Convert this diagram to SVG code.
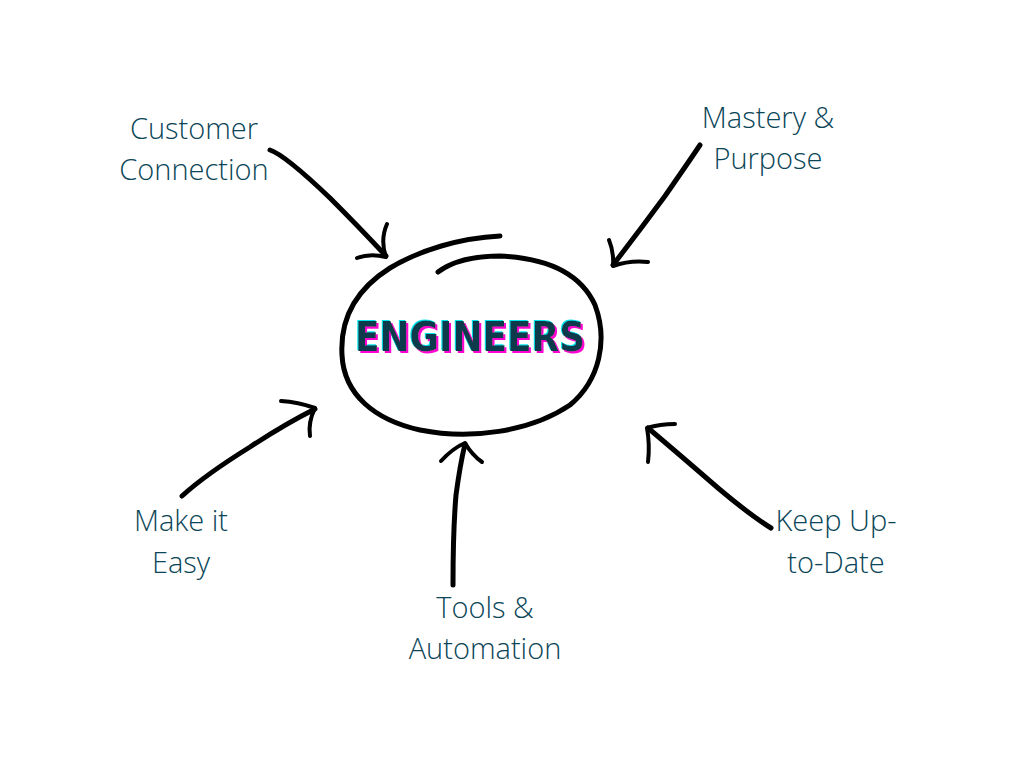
<svg xmlns="http://www.w3.org/2000/svg" width="1024" height="768" viewBox="0 0 1024 768">
<style>
.lbl{font-family:"Open Sans","Liberation Sans",sans-serif;font-weight:300;font-size:29px;fill:#0b4658;text-anchor:middle}
.stroke{fill:none;stroke:#000;stroke-width:5;stroke-linecap:round;stroke-linejoin:round}
.head{fill:none;stroke:#000;stroke-width:4;stroke-linecap:round;stroke-linejoin:round}
.title{font-family:"DejaVu Sans","Liberation Sans",sans-serif;font-weight:bold;font-size:41px;fill:#0b3a4c;text-anchor:middle}
</style>
<defs>
<filter id="glitch" x="-5%" y="-20%" width="110%" height="140%">
<feFlood flood-color="#ff00d4" result="m"/>
<feComposite in="m" in2="SourceAlpha" operator="in" result="mc"/>
<feOffset in="mc" dx="1.5" dy="1.5" result="mo"/>
<feFlood flood-color="#00e5ee" result="c"/>
<feComposite in="c" in2="SourceAlpha" operator="in" result="cc"/>
<feOffset in="cc" dx="-1.5" dy="-1.5" result="co"/>
<feMerge><feMergeNode in="co"/><feMergeNode in="mo"/><feMergeNode in="SourceGraphic"/></feMerge>
</filter>
</defs>
<rect width="1024" height="768" fill="#fff"/>
<g id="engineers">
<path class="stroke" d="M500,236 C460,238 420,250 390,268 C355,290 340,320 342,355 C344,395 375,420 420,430 C470,440 530,432 570,405 C600,380 608,340 595,305 C580,272 545,258 500,256 C470,256 450,263 438,272"/>
<text class="title" x="470" y="351" textLength="230" lengthAdjust="spacingAndGlyphs" filter="url(#glitch)">ENGINEERS</text>
</g>
<g id="customer-connection">
<text class="lbl" x="194" y="139">Customer</text>
<text class="lbl" x="194" y="180">Connection</text>
</g>
<g id="mastery-purpose">
<text class="lbl" x="768" y="128">Mastery &amp;</text>
<text class="lbl" x="768" y="169">Purpose</text>
</g>
<g id="make-it-easy">
<text class="lbl" x="181" y="531">Make it</text>
<text class="lbl" x="181" y="573">Easy</text>
</g>
<g id="tools-automation">
<text class="lbl" x="485" y="618">Tools &amp;</text>
<text class="lbl" x="485" y="659">Automation</text>
</g>
<g id="keep-up-to-date">
<text class="lbl" x="836" y="531">Keep Up-</text>
<text class="lbl" x="836" y="573">to-Date</text>
</g>
<g id="connectors">
<path class="stroke" d="M270,150 Q285,155 330,198 Q360,228 386,256"/>
<path class="head" d="M387,224 Q380,240 386,257 Q370,253 357,258"/>
<path class="stroke" d="M700,145 Q690,160 665,196 Q640,230 613,265"/>
<path class="head" d="M609,240 Q614,252 613,266 Q630,260 648,262"/>
<path class="stroke" d="M182,496 Q205,475 250,447 Q285,424 315,409"/>
<path class="head" d="M281,401 Q298,402 315,408 Q308,422 310,436"/>
<path class="stroke" d="M453,585 Q453,530 456,495 Q460,465 465,444"/>
<path class="head" d="M441,461 Q453,448 465,443 Q472,455 482,462"/>
<path class="stroke" d="M771,528 Q750,515 718,488 Q680,455 648,428"/>
<path class="head" d="M675,424 Q660,424 647,428 Q650,445 648,462"/>
</g>
</svg>
